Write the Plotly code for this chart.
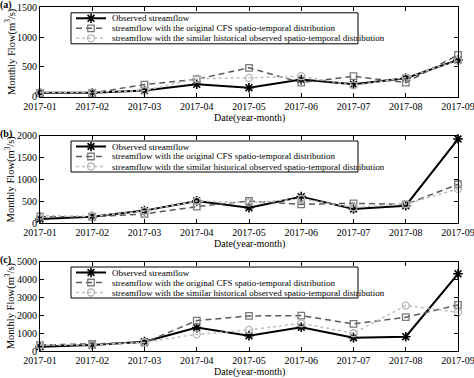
import plotly.graph_objects as go

W, H = 474, 378

months = ["2017-01", "2017-02", "2017-03", "2017-04", "2017-05",
          "2017-06", "2017-07", "2017-08", "2017-09"]

# Panel (a)
obs_a = [62, 62, 100, 205, 148, 284, 205, 307, 613]
cfs_a = [60, 60, 200, 290, 483, 233, 341, 233, 699]
sim_a = [70, 70, 100, 300, 312, 341, 187, 318, 602]
# Panel (b)
obs_b = [99, 152, 289, 510, 356, 607, 326, 401, 1920]
cfs_b = [150, 150, 213, 380, 508, 433, 456, 430, 889]
sim_b = [175, 160, 280, 510, 470, 554, 365, 440, 782]
# Panel (c)
obs_c = [243, 336, 522, 1306, 857, 1327, 745, 800, 4312]
cfs_c = [336, 392, 466, 1698, 1960, 1977, 1512, 1887, 2576]
sim_c = [336, 336, 485, 933, 1176, 1550, 991, 2537, 2165]

y_ranges = [[0, 1500], [0, 2000], [0, 5000]]
y_ticks = [[0, 500, 1000, 1500], [0, 500, 1000, 1500, 2000],
           [0, 1000, 2000, 3000, 4000, 5000]]
panel_labels = ["(a)", "(b)", "(c)"]

series_names = ["Observed streamflow",
                "streamflow with the original CFS spatio-temporal distribution",
                "streamflow with the similar historical observed spatio-temporal distribution"]

FONT = "Liberation Serif"

styles = [
    dict(line=dict(color="black", width=2),
         marker=dict(symbol="asterisk-open", size=8, color="black",
                     line=dict(color="black", width=1.6))),
    dict(line=dict(color="#5a5a5a", width=1.5, dash="6px,4px"),
         marker=dict(symbol="square-open", size=6.5, color="#7a7a7a",
                     line=dict(color="#7a7a7a", width=1.3))),
    dict(line=dict(color="#c0c0c0", width=1.5, dash="dot"),
         marker=dict(symbol="circle-open", size=7, color="#b5b5b5",
                     line=dict(color="#b5b5b5", width=1.3))),
]

data = [[obs_a, cfs_a, sim_a], [obs_b, cfs_b, sim_b], [obs_c, cfs_c, sim_c]]

# pixel layout
x_left, x_right = 40, 458
tops = [7.3, 135.5, 261.5]
bottoms = [96.5, 223.3, 351]

fig = go.Figure()
xidx = list(range(len(months)))

for p in range(3):
    ax = "" if p == 0 else str(p + 1)
    for s in range(3):
        st = styles[s]
        fig.add_trace(go.Scatter(
            x=xidx, y=data[p][s], mode="lines+markers",
            name=series_names[s], line=st["line"], marker=st["marker"],
            xaxis="x" + ax, yaxis="y" + ax, showlegend=False, cliponaxis=False))

axis_common = dict(showline=True, mirror="ticks", linecolor="black", linewidth=1,
                   ticks="inside", ticklen=4, tickcolor="black", showgrid=False,
                   zeroline=False, tickfont=dict(family=FONT, size=10, color="black"),
                   automargin=False, ticklabeloverflow="allow")

layout = dict()
annotations = []
for p in range(3):
    ax = "" if p == 0 else str(p + 1)
    dom_y = [1 - bottoms[p] / H, 1 - tops[p] / H]
    layout["xaxis" + ax] = dict(axis_common, domain=[x_left / W, x_right / W],
                                range=[0, 8], tickvals=xidx, ticktext=months,
                                anchor="y" + ax)
    layout["yaxis" + ax] = dict(axis_common, domain=dom_y, range=y_ranges[p],
                                tickvals=y_ticks[p], anchor="x" + ax)
    # x title
    annotations.append(dict(text="Date(year-month)", xref="paper", yref="paper",
                            x=(x_left + x_right) / 2 / W, y=1 - (bottoms[p] + 21) / H,
                            xanchor="center", yanchor="middle", showarrow=False,
                            font=dict(family=FONT, size=10, color="black")))
    # y title
    annotations.append(dict(text="Monthly Flow(m<sup>3</sup>/s)", xref="paper", yref="paper",
                            x=10 / W, y=1 - (tops[p] + bottoms[p]) / 2 / H,
                            xanchor="center", yanchor="middle", textangle=-90,
                            showarrow=False, font=dict(family=FONT, size=10.5, color="black")))
    # panel label
    annotations.append(dict(text="<b>" + panel_labels[p] + "</b>", xref="paper", yref="paper",
                            x=-2 / W, y=1 - (tops[p] - 2) / H, xanchor="left",
                            yanchor="middle", showarrow=False,
                            font=dict(family=FONT, size=10, color="black")))

# Legend (drawn on a pixel-space overlay axis)
lx0, lx1 = 71, 358
for p in range(3):
    bt = tops[p] + 5.5
    bb = bt + 31
    fig.add_trace(go.Scatter(x=[lx0, lx1, lx1, lx0, lx0], y=[bt, bt, bb, bb, bt],
                             mode="lines", fill="toself", fillcolor="white",
                             line=dict(color="black", width=1), xaxis="x4", yaxis="y4",
                             showlegend=False, hoverinfo="skip"))
    for s in range(3):
        ry = bt + 5.5 + 10 * s
        st = styles[s]
        fig.add_trace(go.Scatter(x=[76, 106], y=[ry, ry], mode="lines", line=st["line"],
                                 xaxis="x4", yaxis="y4", showlegend=False, hoverinfo="skip"))
        fig.add_trace(go.Scatter(x=[91], y=[ry], mode="markers", marker=st["marker"],
                                 xaxis="x4", yaxis="y4", showlegend=False, hoverinfo="skip"))
        annotations.append(dict(text=series_names[s], xref="paper", yref="paper",
                                x=110 / W, y=1 - ry / H, xanchor="left", yanchor="middle",
                                showarrow=False,
                                font=dict(family=FONT, size=9, color="black")))

layout["xaxis4"] = dict(domain=[0, 1], range=[0, W], visible=False, anchor="y4",
                        fixedrange=True)
layout["yaxis4"] = dict(domain=[0, 1], range=[H, 0], visible=False, anchor="x4",
                        fixedrange=True)

fig.update_layout(**layout)
fig.update_layout(width=W, height=H, margin=dict(l=0, r=0, t=0, b=0),
                  paper_bgcolor="white", plot_bgcolor="rgba(0,0,0,0)",
                  template="none", showlegend=False, annotations=annotations,
                  font=dict(family=FONT, color="black"))

fig.write_html("out.html", config={"displayModeBar": False},
               post_script="document.body.style.margin='0px';document.body.style.overflow='hidden';")
